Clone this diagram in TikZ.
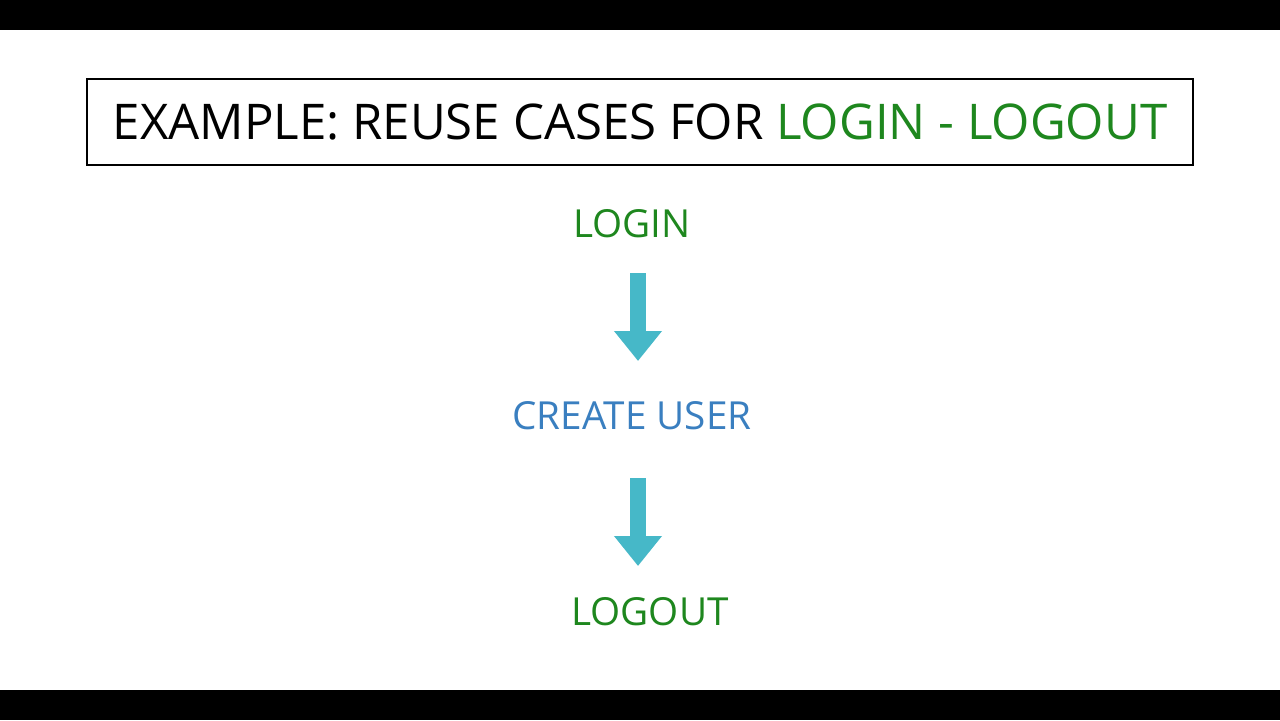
\documentclass[tikz,border=0pt]{standalone}
\usepackage{fontspec}
\setmainfont{Open Sans}
\usetikzlibrary{arrows.meta}

\definecolor{loggreen}{RGB}{30,135,30}
\definecolor{userblue}{RGB}{58,127,192}
\definecolor{arrowteal}{RGB}{70,184,200}

\begin{document}
\begin{tikzpicture}[x=0.02cm,y=-0.02cm,
    stepname/.style={font=\fontsize{22}{26}\selectfont, inner sep=0pt},
    flow/.style={draw=arrowteal, line width=0.32cm,
      -{Triangle[width=0.92cm,length=0.6cm]}}]

    % background and bars
    \fill[white] (0,0) rectangle (1280,720);
    \fill[black] (0,0) rectangle (1280,30);
    \fill[black] (0,690) rectangle (1280,720);

    % title
    \node[draw, line width=1.2pt, minimum width=22.12cm, minimum height=1.72cm,
      font=\fontsize{28}{32}\selectfont] (title) at (640,122)
      {EXAMPLE: REUSE CASES FOR \textcolor{loggreen}{LOGIN - LOGOUT}};

    % steps
    \node[stepname, text=loggreen] (login) at (632,224) {LOGIN};
    \node[stepname, text=userblue] (create) at (632,416) {CREATE USER};
    \node[stepname, text=loggreen] (logout) at (650,612) {LOGOUT};

    \coordinate (a1) at (638,273);
    \coordinate (b1) at (638,361);
    \coordinate (a2) at (638,478);
    \coordinate (b2) at (638,566);
    \draw[flow] (a1) -- (b1);
    \draw[flow] (a2) -- (b2);

\end{tikzpicture}
\end{document}
